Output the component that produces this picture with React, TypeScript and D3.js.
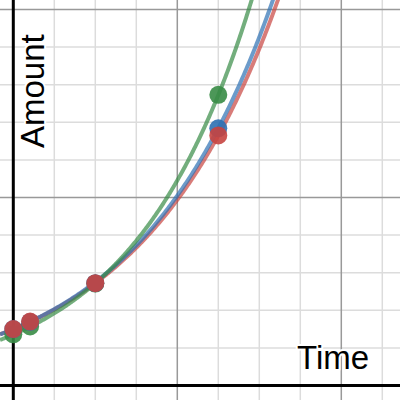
import React from "react";
import * as d3 from "d3";

// Data (x: time units, y: amount units)
const seriesColors = ["#c74440", "#2d70b3", "#388c46"];
const redX = [0, 0.41, 2, 5];
const redY = [1.5, 1.7, 2.72, 6.65];
const blueX = [0, 0.41, 2, 5];
const blueY = [1.5, 1.69, 2.72, 6.84];
const greenX = [0, 0.41, 2, 5];
const greenY = [1.36, 1.57, 2.71, 7.73];
// fitted exponential models y = a * exp(k x) (red, blue, green)
const fitA = [1.5, 1.5, 1.356];
const fitK = [0.2978, 0.3035, 0.348];

const xMinorStep = 1;
const xMajorStep = 4;
const yMinorStep = 1;
const yMajorStep = 5;
const xAxisTitle = "Time";
const yAxisTitle = "Amount";

const W = 400;
const H = 400;

export default function App() {
  const x = d3.scaleLinear().domain([-13.3 / 41, (W - 13.3) / 41]).range([0, W]);
  const y = d3.scaleLinear().domain([(385.5 - H) / 37.6, 385.5 / 37.6]).range([H, 0]);

  const [x0, x1] = x.domain();
  const [y0, y1] = y.domain();
  const xGrid = d3.range(Math.ceil(x0 / xMinorStep) * xMinorStep, x1, xMinorStep);
  const yGrid = d3.range(Math.ceil(y0 / yMinorStep) * yMinorStep, y1, yMinorStep);

  const isMajor = (v: number, s: number) => Math.abs(v / s - Math.round(v / s)) < 1e-6;

  const sampleX = d3.range(x0, x1, 0.02);
  const curves = fitA.map((a, i) => {
    const pts: [number, number][] = sampleX
      .map((v) => [v, a * Math.exp(fitK[i] * v)] as [number, number])
      .filter((p) => p[1] < y1 + 2);
    return d3
      .line<[number, number]>()
      .x((p) => x(p[0]))
      .y((p) => y(p[1]))(pts);
  });

  const points = [
    { xs: greenX, ys: greenY, c: seriesColors[2] },
    { xs: blueX, ys: blueY, c: seriesColors[1] },
    { xs: redX, ys: redY, c: seriesColors[0] },
  ];

  return (
    <svg
      width={W}
      height={H}
      style={{ position: "fixed", left: 0, top: 0, background: "#fff" }}
      fontFamily="'Liberation Sans', Arial, sans-serif"
    >
      <rect width={W} height={H} fill="#fff" />
      {xGrid
        .filter((v) => !isMajor(v, xMajorStep))
        .map((v) => (
          <line key={"xm" + v} x1={x(v)} x2={x(v)} y1={0} y2={H} stroke="#dcdcdc" strokeWidth={1.5} />
        ))}
      {yGrid
        .filter((v) => !isMajor(v, yMajorStep))
        .map((v) => (
          <line key={"ym" + v} y1={y(v)} y2={y(v)} x1={0} x2={W} stroke="#dcdcdc" strokeWidth={1.5} />
        ))}
      {xGrid
        .filter((v) => isMajor(v, xMajorStep) && v !== 0)
        .map((v) => (
          <line key={"xM" + v} x1={x(v)} x2={x(v)} y1={0} y2={H} stroke="#999" strokeWidth={1.5} />
        ))}
      {yGrid
        .filter((v) => isMajor(v, yMajorStep) && v !== 0)
        .map((v) => (
          <line key={"yM" + v} y1={y(v)} y2={y(v)} x1={0} x2={W} stroke="#999" strokeWidth={1.5} />
        ))}
      <line x1={x(0)} x2={x(0)} y1={0} y2={H} stroke="#000" strokeWidth={3} />
      <line y1={y(0)} y2={y(0)} x1={0} x2={W} stroke="#000" strokeWidth={3} />

      <text
        x={297}
        y={369}
        fontSize={33}
        fill="#000"
        stroke="#fff"
        strokeWidth={4}
        strokeLinejoin="round"
        style={{ paintOrder: "stroke" }}
      >
        {xAxisTitle}
      </text>
      <text
        transform="translate(44,148) rotate(-90)"
        fontSize={33}
        fill="#000"
        stroke="#fff"
        strokeWidth={4}
        strokeLinejoin="round"
        style={{ paintOrder: "stroke" }}
      >
        {yAxisTitle}
      </text>

      {curves.map((d, i) => (
        <path key={"c" + i} d={d || ""} fill="none" stroke={seriesColors[i]} strokeWidth={4} strokeOpacity={0.7} />
      ))}

      {points.map((s, si) =>
        s.xs.map((xv, j) => (
          <circle key={si + "-" + j} cx={x(xv)} cy={y(s.ys[j])} r={9} fill={s.c} fillOpacity={0.9} />
        ))
      )}
    </svg>
  );
}
